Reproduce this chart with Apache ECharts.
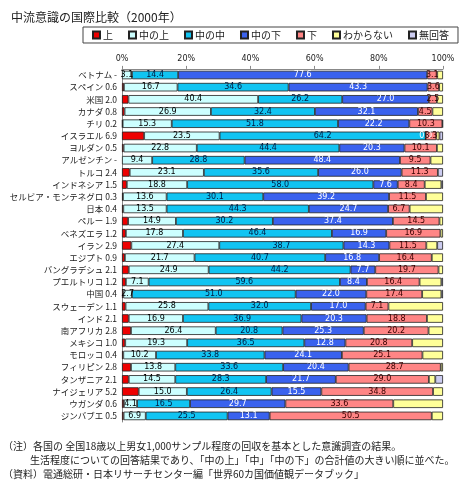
<!DOCTYPE html>
<html>
<head>
<meta charset="utf-8">
<script src="https://cdn.jsdelivr.net/npm/echarts@6/dist/echarts.min.js"></script>
<style>
html,body{margin:0;padding:0;background:#fff;}
#c{width:474px;height:488px;}
</style>
</head>
<body>
<div id="c"></div>
<script>
// ---- data ----
var countries = ['ベトナム','スペイン','米国','カナダ','チリ','イスラエル','ヨルダン','アルゼンチン','トルコ','インドネシア','セルビア・モンテネグロ','日本','ペルー','ベネズエラ','イラン','エジプト','バングラデシュ','プエルトリコ','中国','スウェーデン','インド','南アフリカ','メキシコ','モロッコ','フィリピン','タンザニア','ナイジェリア','ウガンダ','ジンバブエ'];
var seriesNames = ['上','中の上','中の中','中の下','下','わからない','無回答'];
var upper = [null,0.6,2.0,0.8,0.2,6.9,0.5,null,2.4,1.5,0.3,0.4,1.9,1.2,2.9,0.9,2.1,1.2,0.4,1.1,2.1,2.8,1.0,0.4,2.8,2.1,5.2,0.6,0.5];
var upperMiddle = [3.1,16.7,40.4,26.9,15.3,23.5,22.8,9.4,23.1,18.8,13.6,13.5,14.9,17.8,27.4,21.7,24.9,7.1,2.7,25.8,16.9,26.4,19.3,10.2,13.8,14.5,15.0,4.1,6.9];
var middle = [14.4,34.6,26.2,32.4,51.8,64.2,44.4,28.8,35.6,58.0,30.1,44.3,30.2,46.4,38.7,40.7,44.2,59.6,51.0,32.0,36.9,20.8,36.5,33.8,33.6,28.3,26.4,16.5,25.5];
var lowerMiddle = [77.6,43.3,27.0,32.1,22.2,0.0,20.3,48.4,26.0,7.6,39.2,24.7,37.4,16.9,14.3,16.8,7.7,8.4,22.0,17.0,20.3,25.3,12.8,24.1,20.4,21.7,15.5,29.7,13.1];
var lower = [3.1,3.6,2.5,4.5,10.3,3.3,10.1,9.5,11.3,8.4,11.5,6.7,14.5,16.9,11.5,16.4,19.7,16.4,17.4,7.1,18.8,20.2,20.8,25.1,28.7,29.0,34.8,33.6,50.5];
var dontKnow = [1.8,1.2,1.9,3.3,0.2,1.0,1.9,3.9,null,5.2,5.3,10.4,1.1,0.8,3.4,3.5,1.4,6.8,6.0,17.0,5.0,4.5,9.6,6.4,0.7,2.0,3.1,15.5,3.5];
var noAnswer = [null,null,null,null,null,1.1,null,null,1.6,0.5,null,null,null,null,1.8,null,null,0.5,0.5,null,null,null,null,null,null,2.4,null,null,null];
var xTicks = [0,20,40,60,80,100];
var notes = [
  '（注）各国の 全国18歳以上男女1,000サンプル程度の回収を基本とした意識調査の結果。',
  '生活程度についての回答結果であり、「中の上」「中」「中の下」の合計値の大きい順に並べた。',
  '（資料）電通総研・日本リサーチセンター編「世界60カ国価値観データブック」'
];

var FONT = '"Noto Sans CJK JP", "Noto Sans", sans-serif';
var colors = ['#ee0000','#ccffff','#11c4f2','#3a62ee','#ff8585','#ffff99','#ccccf0'];
var labelColors = [null,'#000','#001a40','#ffffff','#3a0000',null,null];
var values = [upper, upperMiddle, middle, lowerMiddle, lower, dontKnow, noAnswer];

var catLabels = countries.map(function(c, i){
  return c + ' ' + (upper[i] == null ? '-' : upper[i].toFixed(1));
});

var series = seriesNames.map(function(n, k){
  return {
    name: n,
    type: 'bar',
    stack: 'all',
    barWidth: '70%',
    data: values[k],
    itemStyle: {color: colors[k], borderColor: '#222', borderWidth: 0.8},
    label: {
      show: labelColors[k] != null,
      position: 'inside',
      fontSize: 8,
      fontFamily: '"DejaVu Sans", sans-serif',
      color: labelColors[k] || '#000',
      formatter: function(p){ return p.value == null ? '' : Number(p.value).toFixed(1); }
    },
    emphasis: {disabled: true},
    animation: false
  };
});

var chart = echarts.init(document.getElementById('c'), null, {renderer: 'canvas'});
chart.setOption({
  backgroundColor: '#fff',
  animation: false,
  textStyle: {fontFamily: FONT},
  title: {
    text: '中流意識の国際比較（2000年）',
    left: 6, top: 6,
    textStyle: {fontSize: 12, fontWeight: 'normal', color: '#222', fontFamily: FONT}
  },
  legend: {
    data: seriesNames,
    left: 83, top: 27,
    padding: [3, 9],
    itemGap: 15,
    itemWidth: 7, itemHeight: 7,
    icon: 'rect',
    borderColor: '#444', borderWidth: 1,
    textStyle: {fontSize: 10, color: '#222', fontFamily: FONT, padding: [0,0,0,-2]}
  },
  grid: {left: 122, right: 31, top: 68.9, bottom: 66},
  xAxis: {
    type: 'value',
    position: 'top',
    min: xTicks[0], max: xTicks[xTicks.length-1], interval: xTicks[1]-xTicks[0],
    axisLabel: {formatter: '{value}%', fontSize: 8, color: '#222', margin: 6, fontFamily: '"DejaVu Sans", sans-serif'},
    axisLine: {show: true, lineStyle: {color: '#888'}},
    axisTick: {show: true, length: 3, lineStyle: {color: '#888'}},
    splitLine: {show: false}
  },
  yAxis: {
    type: 'category',
    inverse: true,
    data: catLabels,
    axisLine: {show: true, lineStyle: {color: '#888'}},
    axisTick: {show: false},
    axisLabel: {fontSize: 8.5, color: '#222', margin: 5, fontFamily: FONT}
  },
  series: series,
  graphic: [
    {type: 'text', left: 3, top: 441, style: {text: notes[0], fontSize: 10, fill: '#222', fontFamily: FONT}},
    {type: 'text', left: 30, top: 455, style: {text: notes[1], fontSize: 10, fill: '#222', fontFamily: FONT}},
    {type: 'text', left: 3, top: 469, style: {text: notes[2], fontSize: 10, fill: '#222', fontFamily: FONT}}
  ]
});
</script>
</body>
</html>
